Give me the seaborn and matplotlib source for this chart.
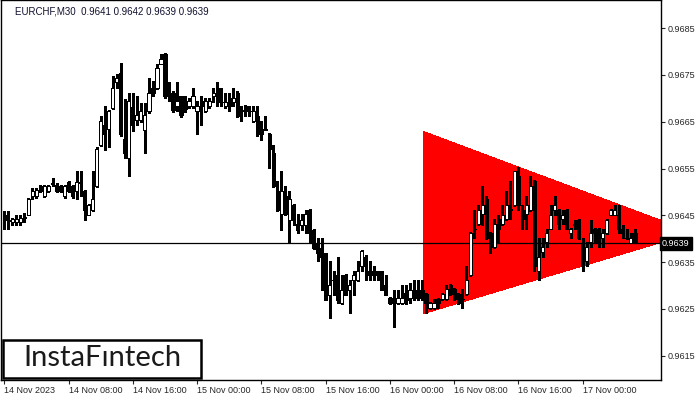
import numpy as np
import pandas as pd
import matplotlib.pyplot as plt
import matplotlib.patches as mpatches
import seaborn as sns

# EURCHF M30 candles, 14 Nov 2023 00:00 onwards
opens = [0.9645, 0.9644, 0.96435, 0.96435, 0.96435, 0.96445, 0.96451, 0.96491, 0.96492, 0.96512,
         0.96491, 0.96502, 0.96518, 0.96515, 0.96512, 0.96491, 0.96521, 0.96512, 0.96502, 0.96521,
         0.96502, 0.96451, 0.96462, 0.96512, 0.96601, 0.96644, 0.96634, 0.9668, 0.96734, 0.96754,
         0.96614, 0.96573, 0.96682, 0.96654, 0.96654, 0.96632, 0.96673, 0.96723, 0.96723, 0.96774,
         0.96794, 0.96712, 0.96712, 0.96684, 0.96704, 0.96694, 0.96684, 0.96684, 0.96673, 0.96694,
         0.96673, 0.96684, 0.96704, 0.96723, 0.96692, 0.96684, 0.96701, 0.96692, 0.96712, 0.96673,
         0.96684, 0.96673, 0.96651, 0.96662, 0.96634, 0.96634, 0.96623, 0.96584, 0.96501, 0.96452,
         0.96491, 0.96441, 0.96473, 0.96432, 0.9643, 0.9643, 0.96462, 0.96419, 0.96391, 0.9638,
         0.96369, 0.9628, 0.96312, 0.96323, 0.96262, 0.96323, 0.96291, 0.96312, 0.96312, 0.96341,
         0.96362, 0.9633, 0.9633, 0.9633, 0.9633, 0.96301, 0.96273, 0.96273, 0.96262, 0.96262,
         0.96283, 0.96273, 0.96291, 0.9628, 0.96291, 0.96282, 0.96252, 0.96252, 0.96271, 0.96271,
         0.96271, 0.96302, 0.96292, 0.96282, 0.96271, 0.96282, 0.96322, 0.96421, 0.96432, 0.96453,
         0.96484, 0.96412, 0.96382, 0.96442, 0.96432, 0.96442, 0.96462, 0.96473, 0.96534, 0.96462,
         0.96453, 0.96462, 0.96523, 0.9633, 0.96372, 0.96392, 0.96421, 0.96462, 0.96462, 0.96442,
         0.96462, 0.96412, 0.9643, 0.96441, 0.96391, 0.96352, 0.96392, 0.96421, 0.96421, 0.96401,
         0.96412, 0.96451, 0.96451, 0.96451, 0.96421, 0.96401, 0.96391, 0.96412]
highs = [0.9646, 0.9646, 0.96445, 0.9645, 0.9645, 0.96455, 0.96486, 0.96509, 0.96508, 0.96514,
         0.96514, 0.96515, 0.9653, 0.9652, 0.96515, 0.96515, 0.96523, 0.96515, 0.96544, 0.96544,
         0.96505, 0.96475, 0.96544, 0.96595, 0.96663, 0.96684, 0.96676, 0.96748, 0.96751, 0.96776,
         0.96698, 0.96712, 0.96712, 0.96704, 0.9669, 0.9669, 0.96744, 0.96737, 0.96773, 0.96794,
         0.96796, 0.96734, 0.96715, 0.96734, 0.96706, 0.96705, 0.967, 0.96723, 0.96694, 0.96704,
         0.967, 0.967, 0.96723, 0.96734, 0.96723, 0.96712, 0.96712, 0.96723, 0.96715, 0.96684,
         0.96686, 0.96684, 0.96684, 0.96684, 0.96651, 0.96662, 0.96625, 0.96601, 0.96523, 0.96545,
         0.96512, 0.96501, 0.96475, 0.96452, 0.96452, 0.96462, 0.96463, 0.9642, 0.96401, 0.96401,
         0.9637, 0.96352, 0.9633, 0.96362, 0.96323, 0.96324, 0.96312, 0.9633, 0.96352, 0.96375,
         0.96365, 0.96352, 0.96341, 0.96332, 0.96332, 0.96323, 0.96275, 0.96291, 0.96291, 0.96301,
         0.96301, 0.96305, 0.96312, 0.96312, 0.96312, 0.96284, 0.96264, 0.96271, 0.96273, 0.96284,
         0.96302, 0.96304, 0.96294, 0.96284, 0.96292, 0.96341, 0.96414, 0.96462, 0.96473, 0.96513,
         0.96492, 0.96414, 0.96442, 0.96451, 0.96473, 0.96501, 0.96523, 0.96545, 0.96554, 0.96473,
         0.96492, 0.96534, 0.96525, 0.96401, 0.96401, 0.96421, 0.96473, 0.96492, 0.96464, 0.96462,
         0.96464, 0.96423, 0.96441, 0.96443, 0.96401, 0.96392, 0.96441, 0.96423, 0.96423, 0.96421,
         0.96443, 0.96464, 0.96473, 0.96473, 0.9643, 0.96421, 0.96412, 0.96421]
lows = [0.9642, 0.9642, 0.9643, 0.9643, 0.9643, 0.96435, 0.9645, 0.96484, 0.96488, 0.965,
        0.9649, 0.965, 0.96512, 0.965, 0.965, 0.96488, 0.965, 0.96488, 0.96484, 0.96491,
        0.96441, 0.9645, 0.9646, 0.9651, 0.96598, 0.9659, 0.96595, 0.96678, 0.96723, 0.9662,
        0.96573, 0.96534, 0.9663, 0.96644, 0.9665, 0.96584, 0.96669, 0.96705, 0.9672, 0.96773,
        0.967, 0.96694, 0.9667, 0.96673, 0.9666, 0.9667, 0.9668, 0.9668, 0.96623, 0.96644,
        0.9667, 0.9668, 0.96692, 0.96684, 0.96684, 0.9668, 0.96673, 0.96684, 0.9666, 0.96651,
        0.96662, 0.96662, 0.9665, 0.9662, 0.96612, 0.96632, 0.96551, 0.9651, 0.9646, 0.96419,
        0.9645, 0.96391, 0.9643, 0.96412, 0.96419, 0.96412, 0.96391, 0.96378, 0.96352, 0.96291,
        0.96268, 0.9623, 0.9628, 0.96262, 0.9626, 0.96279, 0.96241, 0.9628, 0.9631, 0.9633,
        0.96312, 0.96312, 0.96312, 0.96312, 0.9629, 0.96279, 0.9626, 0.96212, 0.9626, 0.9626,
        0.9626, 0.96262, 0.9627, 0.96269, 0.96269, 0.96241, 0.9625, 0.9625, 0.96252, 0.9627,
        0.9627, 0.9628, 0.9627, 0.9626, 0.96252, 0.9628, 0.9632, 0.96401, 0.9643, 0.9643,
        0.964, 0.9637, 0.9638, 0.96392, 0.9643, 0.9644, 0.96442, 0.9647, 0.96462, 0.96421,
        0.96421, 0.9646, 0.9633, 0.96312, 0.96362, 0.96382, 0.9642, 0.96451, 0.96421, 0.96432,
        0.9642, 0.96401, 0.96421, 0.964, 0.9633, 0.96341, 0.96382, 0.96392, 0.96382, 0.96382,
        0.9641, 0.9645, 0.9645, 0.96412, 0.96401, 0.964, 0.9639, 0.9639]
closes = [0.9644, 0.96438, 0.96442, 0.96442, 0.96445, 0.96446, 0.96484, 0.96502, 0.96504, 0.96502,
          0.96512, 0.96512, 0.96519, 0.96502, 0.96502, 0.96512, 0.96502, 0.96491, 0.96521, 0.9652,
          0.96462, 0.96473, 0.96484, 0.96592, 0.96652, 0.96623, 0.96673, 0.96723, 0.96744, 0.96623,
          0.96584, 0.96694, 0.96644, 0.96664, 0.96673, 0.96664, 0.96712, 0.96712, 0.96764, 0.96784,
          0.96704, 0.96704, 0.96675, 0.96694, 0.96664, 0.96677, 0.96694, 0.96704, 0.96684, 0.96684,
          0.96694, 0.96694, 0.96712, 0.96692, 0.96693, 0.96692, 0.96684, 0.96701, 0.96662, 0.96674,
          0.96673, 0.96672, 0.96673, 0.96623, 0.96623, 0.96633, 0.96591, 0.96512, 0.96462, 0.96501,
          0.96452, 0.96484, 0.96441, 0.96419, 0.96441, 0.96452, 0.96412, 0.9638, 0.96369, 0.96362,
          0.96269, 0.96301, 0.96311, 0.96269, 0.96291, 0.9628, 0.96301, 0.96323, 0.9633, 0.96373,
          0.96341, 0.96323, 0.96323, 0.96323, 0.96291, 0.9628, 0.96262, 0.96272, 0.96273, 0.96273,
          0.96268, 0.96291, 0.96273, 0.9628, 0.96273, 0.96262, 0.96262, 0.96262, 0.96262, 0.96282,
          0.96292, 0.96282, 0.96271, 0.96262, 0.96272, 0.96312, 0.96412, 0.96421, 0.96462, 0.96473,
          0.96401, 0.96382, 0.96432, 0.96421, 0.96451, 0.96473, 0.96462, 0.96544, 0.96473, 0.96442,
          0.96473, 0.96513, 0.96341, 0.96362, 0.96382, 0.96412, 0.96451, 0.96473, 0.96432, 0.96451,
          0.96421, 0.96421, 0.9643, 0.96401, 0.96341, 0.96382, 0.96412, 0.96412, 0.96392, 0.96412,
          0.96441, 0.96462, 0.96462, 0.96421, 0.96412, 0.96402, 0.96401, 0.96391]

# triangle pattern corners (bar index, price)
tri_bars = [104.4, 104.4, 171.7]
tri_prices = [0.96629, 0.96240, 0.96413]

bid = 0.9639
tick_labels = ['14 Nov 2023', '14 Nov 08:00', '14 Nov 16:00', '15 Nov 00:00', '15 Nov 08:00',
               '15 Nov 16:00', '16 Nov 00:00', '16 Nov 08:00', '16 Nov 16:00', '17 Nov 00:00']

df = pd.DataFrame({'open': opens, 'high': highs, 'low': lows, 'close': closes})
df['bar'] = np.arange(len(df))
df['up'] = df['close'] >= df['open']

sns.set_style('white')
plt.rcParams['font.family'] = ['Liberation Sans', 'DejaVu Sans']

fig = plt.figure(figsize=(7, 4), dpi=100)
ax = fig.add_axes([0.001, 0.05, 0.9433, 0.9488])

# red triangle
ax.fill(tri_bars, tri_prices, color='#ff0000', lw=0, zorder=1, antialiased=False)

ax.axhline(bid, color='black', lw=0.9, zorder=2)

# candles: wicks, then bodies (white = up, black = down)
ax.vlines(df['bar'], df['low'], df['high'], color='black', lw=0.75, zorder=3, antialiased=False)
body = (df['close'] - df['open']).abs().clip(lower=0.000005)
ax.bar(df['bar'], body, bottom=df[['open', 'close']].min(axis=1), width=0.8,
       color=np.where(df['up'], 'white', 'black'), edgecolor='black', lw=0.55, zorder=4,
       antialiased=False)

ax.set_xlim(-0.9, 163.5)
ax.set_ylim(0.960981, 0.969091)

ax.set_xticks(np.arange(0, 16 * len(tick_labels), 16))
ax.set_xticklabels(tick_labels, ha='left', fontsize=6.5)
ax.tick_params(axis='x', bottom=True, length=3, width=0.8, pad=1, direction='out')

yt = np.arange(0.9615, 0.96851, 0.001)
ax.set_yticks(yt)
ax.set_yticklabels(['%.4f' % v for v in yt], fontsize=6.5)
ax.yaxis.tick_right()
ax.tick_params(axis='y', right=True, left=False, length=3, width=0.8, pad=2, direction='out')

for s in ax.spines.values():
    s.set_color('black')
    s.set_linewidth(1)

# bid label on the price scale
ax.text(1.0015, bid, '%.4f' % bid, transform=ax.get_yaxis_transform(), fontsize=6.5,
        color='white', va='center', ha='left',
        bbox=dict(boxstyle='square,pad=0.25', fc='black', ec='black'))

fig.text(15 / 700, 1 - 11 / 400, 'EURCHF,M30  0.9641 0.9642 0.9639 0.9639', fontsize=7,
         color='#101030', va='center', ha='left')

# logo
fig.patches.append(mpatches.Rectangle((3 / 700, 22 / 400), 198 / 700, 38 / 400,
                                      transform=fig.transFigure, fc='white', ec='black',
                                      lw=1.8, zorder=5))
fig.text(102 / 700, 1 - 358 / 400, 'InstaFıntech', fontsize=21,
         family=['Lato', 'DejaVu Sans'], color='#1a1a1a', ha='center', va='center', zorder=6)

fig.savefig('out.png', dpi=100)
